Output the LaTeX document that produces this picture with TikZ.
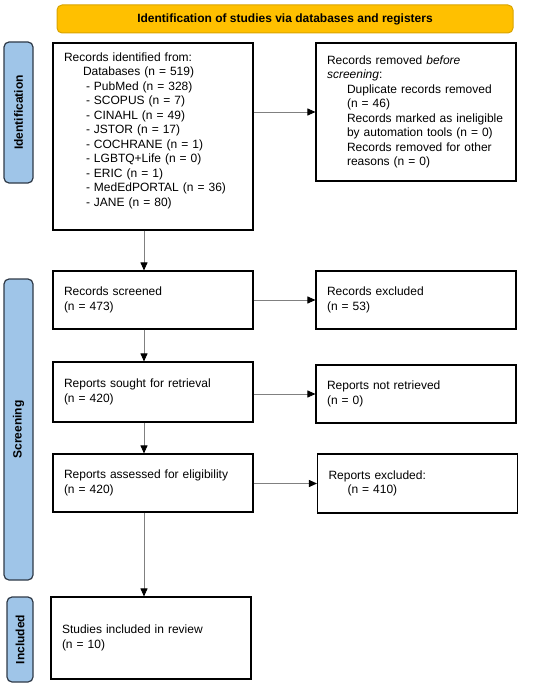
\documentclass[tikz,border=0pt]{standalone}
\usepackage{fontspec}
\setmainfont{Liberation Sans}
\usetikzlibrary{arrows.meta}
\definecolor{bannerfill}{HTML}{FFC000}
\definecolor{bannerline}{HTML}{D9A400}
\definecolor{phasefill}{HTML}{9FC5E8}
\definecolor{phaseline}{HTML}{2F3A48}
\definecolor{linkgray}{HTML}{808080}

\begin{document}
\begin{tikzpicture}[x=1pt, y=-1pt,
    font=\fontsize{12}{14.5}\selectfont,
    box/.style={draw, line width=1.1pt, minimum width=200pt, inner xsep=11pt,
                text width=178pt, align=left},
    phase/.style={draw=phaseline, fill=phasefill, line width=1.2pt, rounded corners=5pt,
                  rotate=90, inner sep=0pt, font=\fontsize{12}{14.5}\selectfont\bfseries},
    post/.style={draw=linkgray, line width=0.9pt,
                 -{Triangle[color=black, length=8pt, width=7pt]}}]

   \useasboundingbox (0,0) rectangle (550,687);

   \node [draw=bannerline, fill=bannerfill, line width=1pt, rounded corners=5pt,
          minimum width=456pt, minimum height=28pt, font=\fontsize{12}{14.5}\selectfont\bfseries]
        (vHead) at (285,19) {Identification of studies via databases and registers};

   \foreach \x/\y/\w/\h/\t in {18.5/112.5/29/141/Identification, 18.5/429.5/29/301/Screening, 20/639.5/26/85/Included}
     \node [phase, minimum width=\h pt, minimum height=\w pt]
        (p\t) at (\x,\y) {\t};

   \node [box, minimum height=187pt] (vId) at (153,136.5)
        {Records identified from:\\
         \hspace*{19pt}Databases (n = 519)\\
         \hspace*{22pt}- PubMed (n = 328)\\
         \hspace*{22pt}- SCOPUS (n = 7)\\
         \hspace*{22pt}- CINAHL (n = 49)\\
         \hspace*{22pt}- JSTOR (n = 17)\\
         \hspace*{22pt}- COCHRANE (n = 1)\\
         \hspace*{22pt}- LGBTQ+Life (n = 0)\\
         \hspace*{22pt}- ERIC (n = 1)\\
         \hspace*{22pt}- MedEdPORTAL (n = 36)\\
         \hspace*{22pt}- JANE (n = 80)\\
         \mbox{}};
   \node [box, minimum height=138pt] (vRm) at (416,112)
        {Records removed \textit{before}\\
         \textit{screening}:\\
         \hspace*{20pt}Duplicate records removed\\
         \hspace*{20pt}(n = 46)\\
         \hspace*{20pt}Records marked as ineligible\\
         \hspace*{20pt}by automation tools (n = 0)\\
         \hspace*{20pt}Records removed for other\\
         \hspace*{20pt}reasons (n = 0)};

   \node [box, minimum height=58pt] (vScr) at (153,300) {Records screened\\(n = 473)};
   \node [box, minimum height=58pt] (vExc) at (416,300) {Records excluded\\(n = 53)};
   \node [box, minimum height=60pt] (vSought) at (153,392) {Reports sought for retrieval\\(n = 420)};
   \node [box, minimum height=58pt] (vNotRet) at (416,394) {Reports not retrieved\\(n = 0)};
   \node [box, minimum height=58pt] (vElig) at (153,483) {Reports assessed for eligibility\\(n = 420)};
   \node [box, minimum height=59pt] (vRepExc) at (417.5,483.5) {Reports excluded:\\\hspace*{19pt}(n = 410)};
   \node [box, minimum height=82pt] (vIncl) at (151,638) {Studies included in review\\(n = 10)};

    \foreach \i/\j in {vId/vRm, vScr/vExc, vSought/vNotRet, vElig/vRepExc}
        \draw [post] (\i.east |- \j) -- (\j);
    \foreach \i/\j in {vId/vScr, vScr/vSought, vSought/vElig, vElig/vIncl}
        \draw [post] ([xshift=-9]\i.south) -- ([xshift=-9]\i.south |- \j.north);

\end{tikzpicture}
\end{document}
